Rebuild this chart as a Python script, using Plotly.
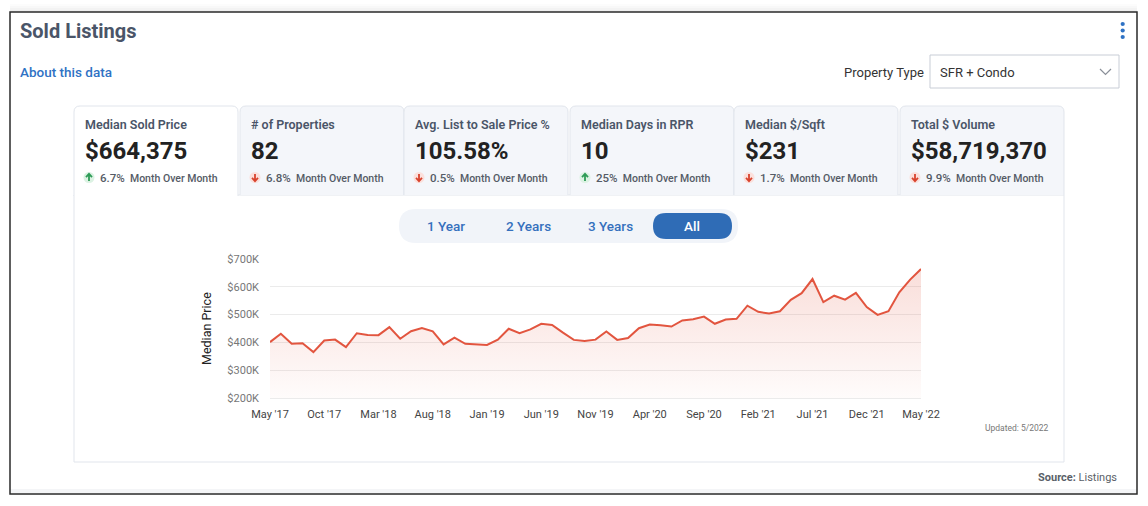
import pandas as pd
import plotly.graph_objects as go

# ---------------- data ----------------
months = [d.strftime("%Y-%m") for d in pd.date_range("2017-05-01", "2022-05-01", freq="MS")]
median_price_k = [
    401, 431, 395, 397, 365, 407, 410, 383, 433, 427, 426, 455,
    413, 440, 452, 440, 393, 417, 395, 392, 391, 410, 449, 433,
    447, 467, 463, 435, 409, 405, 410, 439, 409, 416, 451, 464,
    462, 457, 479, 483, 493, 467, 482, 485, 532, 510, 504, 512,
    553, 577, 628, 545, 568, 554, 578, 527, 499, 512, 580, 626,
    664,
]
x_tick_labels = ["May '17", "Oct '17", "Mar '18", "Aug '18", "Jan '19", "Jun '19", "Nov '19",
                 "Apr '20", "Sep '20", "Feb '21", "Jul '21", "Dec '21", "May '22"]
y_tick_vals = [200, 300, 400, 500, 600, 700]
y_tick_labels = ["$200K", "$300K", "$400K", "$500K", "$600K", "$700K"]

card_labels = ["Median Sold Price", "# of Properties", "Avg. List to Sale Price %",
               "Median Days in RPR", "Median $/Sqft", "Total $ Volume"]
card_values = ["$664,375", "82", "105.58%", "10", "$231", "$58,719,370"]
card_changes = ["6.7%", "6.8%", "0.5%", "25%", "1.7%", "9.9%"]
card_dirs = ["up", "down", "down", "up", "down", "down"]
range_tabs = ["1 Year", "2 Years", "3 Years", "All"]

# ---------------- geometry helpers (pixel -> paper) ----------------
PX0, PX1, PY0, PY1 = 270, 921, 259, 398
W, H = 1148, 506


def px(x):
    return (x - PX0) / (PX1 - PX0)


def py(y):
    return (PY1 - y) / (PY1 - PY0)


FONT = "Roboto, 'Open Sans', Arial, sans-serif"
shapes = []
annotations = []


def rect(x0, y0, x1, y1, fill, line=None, lw=1, layer="below"):
    shapes.append(dict(type="rect", xref="paper", yref="paper",
                       x0=px(x0), x1=px(x1), y0=py(y1), y1=py(y0),
                       fillcolor=fill, line=dict(color=line or "rgba(0,0,0,0)", width=lw if line else 0),
                       layer=layer))


def rpath(x0, y0, x1, y1, r, top_only=False):
    def P(x, y):
        return f"{px(x)},{py(y)}"
    if top_only:
        return (f"M {P(x0, y1)} L {P(x0, y0 + r)} Q {P(x0, y0)} {P(x0 + r, y0)} "
                f"L {P(x1 - r, y0)} Q {P(x1, y0)} {P(x1, y0 + r)} L {P(x1, y1)}")
    return (f"M {P(x0 + r, y0)} L {P(x1 - r, y0)} Q {P(x1, y0)} {P(x1, y0 + r)} "
            f"L {P(x1, y1 - r)} Q {P(x1, y1)} {P(x1 - r, y1)} L {P(x0 + r, y1)} "
            f"Q {P(x0, y1)} {P(x0, y1 - r)} L {P(x0, y0 + r)} Q {P(x0, y0)} {P(x0 + r, y0)} Z")


def path(d, fill, line=None, lw=1, layer="below"):
    shapes.append(dict(type="path", xref="paper", yref="paper", path=d,
                       fillcolor=fill, line=dict(color=line or "rgba(0,0,0,0)", width=lw if line else 0),
                       layer=layer))


def text(x, y, s, size, color, xanchor="left", weight=None, angle=0):
    f = dict(family=FONT, size=size, color=color)
    if weight:
        f["weight"] = weight
    annotations.append(dict(xref="paper", yref="paper", x=px(x), y=py(y), text=s,
                            showarrow=False, xanchor=xanchor, yanchor="middle",
                            font=f, textangle=angle))


# outer shadow + frame
for i, c in enumerate(["#fcfcfc", "#f8f8f8", "#f3f3f3", "#eeeeee"]):
    rect(10, 4 + i * 2, 1137, 6 + i * 2, c)
rect(10, 489, 1137, 493, "#f4f5f7")
rect(10, 12, 1137, 494, "rgba(0,0,0,0)", line="#2a2a2a", lw=1.5)

# header texts
text(18, 31, "Sold Listings", 20, "#4a5568", weight="bold")
text(18, 72, "About this data", 13.5, "#2f72c4", weight=500)
text(926, 72, "Property Type", 13, "#333333", xanchor="right")
rect(930, 55, 1119, 88, "#ffffff", line="#c8cdd6", lw=1)
text(938, 72, "SFR + Condo", 13, "#333333")
path(f"M {px(1100)},{py(69)} L {px(1105.5)},{py(74.5)} L {px(1111)},{py(69)}",
     "rgba(0,0,0,0)", line="#8a8f98", lw=1.2)
for yy in (24, 30.5, 37):
    shapes.append(dict(type="circle", xref="paper", yref="paper",
                       x0=px(1120.6), x1=px(1124.8), y0=py(yy + 2.1), y1=py(yy - 2.1),
                       fillcolor="#2f72c4", line=dict(width=0), layer="above"))

# panel
rect(74, 195, 1064, 462, "#ffffff", line="#e1e5ec", lw=1)

# cards
card_left = [74, 240, 404, 570, 734, 900]
card_w = 164
for i, lab in enumerate(card_labels):
    x0 = card_left[i]
    x1 = x0 + card_w
    if i == 0:
        path(rpath(x0, 106, x1, 196, 6, top_only=True), "#ffffff", line="#e1e5ec", lw=1)
    else:
        path(rpath(x0, 106, x1, 195, 6, top_only=True), "#f4f6fa", line="#e1e5ec", lw=1)
    text(x0 + 9, 124, lab, 12.5, "#4a5568", weight=600)
    text(x0 + 9, 151, card_values[i], 24, "#222222", weight="bold")
    cx, cy = x0 + 15, 177.5
    up = card_dirs[i] == "up"
    bg = "#dcf2e3" if up else "#fbe0dc"
    fg = "#2e9c57" if up else "#d8432e"
    shapes.append(dict(type="circle", xref="paper", yref="paper",
                       x0=px(cx - 5.5), x1=px(cx + 5.5), y0=py(cy + 5.5), y1=py(cy - 5.5),
                       fillcolor=bg, line=dict(width=0), layer="above"))
    if up:
        d = (f"M {px(cx)},{py(cy + 3.6)} L {px(cx)},{py(cy - 3.4)} "
             f"M {px(cx - 3)},{py(cy - 0.4)} L {px(cx)},{py(cy - 3.6)} L {px(cx + 3)},{py(cy - 0.4)}")
    else:
        d = (f"M {px(cx)},{py(cy - 3.6)} L {px(cx)},{py(cy + 3.4)} "
             f"M {px(cx - 3)},{py(cy + 0.4)} L {px(cx)},{py(cy + 3.6)} L {px(cx + 3)},{py(cy + 0.4)}")
    shapes.append(dict(type="path", xref="paper", yref="paper", path=d,
                       line=dict(color=fg, width=1.8), layer="above"))
    text(x0 + 24, 177.5,
         f"<span style='font-size:11.5px'>{card_changes[i]}</span>"
         f"<span style='font-size:10.5px'>  Month Over Month</span>",
         11, "#555b66", weight=500)

# range tabs
path(rpath(399, 209, 738, 243, 17), "#f1f4f9")
path(rpath(653, 213, 732, 239, 13), "#2f6cb6", layer="above")
tab_cx = [446, 528, 610, 692]
for i, t in enumerate(range_tabs):
    text(tab_cx[i], 226, t, 13.5, "#ffffff" if i == 3 else "#3570bd", xanchor="center", weight=500)

# axis title and footers
text(206, 329, "Median Price", 12.5, "#222222", xanchor="center", angle=-90)
text(1051, 428, "Updated: 5/2022", 8.5, "#777777", xanchor="right")
text(1119, 477, "<b>Source:</b> Listings", 11, "#5a5f68", xanchor="right")

# ---------------- chart ----------------
fig = go.Figure()
fig.add_trace(go.Scatter(
    x=months, y=median_price_k, mode="lines",
    line=dict(color="#e2553f", width=2),
    fill="tozeroy",
    fillgradient=dict(type="vertical", start=200, stop=680,
                      colorscale=[[0, "rgba(226,85,63,0.02)"], [1, "rgba(226,85,63,0.20)"]]),
    hoverinfo="skip", showlegend=False,
))

fig.update_layout(
    width=W, height=H, autosize=False,
    margin=dict(l=PX0, r=W - PX1, t=PY0, b=H - PY1, pad=0),
    paper_bgcolor="#ffffff", plot_bgcolor="rgba(0,0,0,0)",
    shapes=shapes, annotations=annotations,
    font=dict(family=FONT),
    xaxis=dict(type="category", range=[0, len(months) - 1],
               tickvals=months[::5], ticktext=x_tick_labels,
               showgrid=False, zeroline=False, showline=True, linecolor="#ebebeb",
               ticks="", tickfont=dict(size=11, color="#444444", family=FONT),
               ticklabelstandoff=6),
    yaxis=dict(range=[200, 700], tickvals=y_tick_vals, ticktext=y_tick_labels,
               showgrid=True, gridcolor="#ebebeb", gridwidth=1, zeroline=False,
               ticks="", tickfont=dict(size=11, color="#777777", family=FONT),
               ticklabelstandoff=10),
)

fig.write_html("out.html")
